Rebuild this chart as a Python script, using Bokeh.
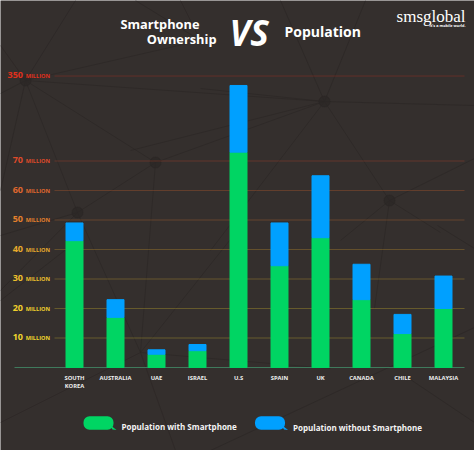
from bokeh.embed import file_html
from bokeh.resources import INLINE
from bokeh.plotting import figure
from bokeh.core.properties import value
from bokeh.models import Range1d, Label, BoxAnnotation, PolyAnnotation, ColumnDataSource

# ---- data -------------------------------------------------------------
categories = ["SOUTH\nKOREA", "AUSTRALIA", "UAE", "ISRAEL", "U.S", "SPAIN", "UK", "CANADA", "CHILE", "MALAYSIA"]
with_smartphone = [43, 17, 4.5, 5.7, 73, 34.5, 44, 23, 11.5, 20]
total_population = [49, 23, 6, 7.8, 95.6, 49, 65, 35, 18, 31]
# axis is broken: the 350 million line sits at position 98.8 on the 10-70 scale
tick_positions = [10, 20, 30, 40, 50, 60, 70, 98.8]
tick_numbers = ["10", "20", "30", "40", "50", "60", "70", "350"]
tick_colors = ["#f0d62c", "#f0cf2c", "#eec02c", "#e8ab2c", "#e4802c", "#e0682e", "#df4a2a", "#e0301c"]
legend_names = ["Population with Smartphone", "Population without Smartphone"]
GREEN, BLUE, BG = "#00d563", "#00a0ff", "#342f2d"

# decorative network in the background, reference pixels
net_nodes = [(25, 80), (77, 212), (155, 162), (324, 101), (389, 200)]
net_segments = [
    (25, 80, 75, 0), (25, 80, 0, 45), (25, 80, 0, 93), (25, 80, 0, 190), (25, 80, 200, 40),
    (25, 80, 324, 101), (25, 80, 155, 162), (25, 80, 77, 212),
    (155, 162, 77, 212), (155, 162, 324, 101), (155, 162, 140, 352),
    (77, 212, 0, 235), (77, 212, 140, 352), (77, 212, 0, 290),
    (324, 101, 280, 0), (324, 101, 365, 0), (324, 101, 474, 105), (324, 101, 200, 88),
    (324, 101, 210, 250), (324, 101, 389, 200),
    (389, 200, 474, 158), (389, 200, 340, 240), (389, 200, 440, 232), (389, 200, 374, 308),
    (140, 352, 175, 450), (140, 352, 0, 422), (140, 352, 233, 235), (140, 352, 330, 368),
    (0, 300, 77, 240), (210, 450, 474, 327), (404, 375, 474, 422), (437, 225, 474, 248),
    (200, 40, 135, 0), (200, 40, 180, 0), (324, 101, 130, 150),
]

# ---- geometry ----------------------------------------------------------
W, H = 474, 450
bar_step, bar_x0 = 41.0, 74.0
px_per_unit, base_y = 2.95, 367.0
def X(px): return (px - bar_x0) / bar_step
def Y(px): return (base_y - px) / px_per_unit

p = figure(width=W, height=H, output_backend="svg", toolbar_location=None,
           x_range=Range1d(X(0), X(W)), y_range=Range1d(Y(H), Y(0)),
           min_border=0, outline_line_color=None, background_fill_color=BG, border_fill_color=BG)
p.grid.visible = False
p.xaxis.visible = False
p.yaxis.visible = False

# background network
p.segment([X(s[0]) for s in net_segments], [Y(s[1]) for s in net_segments],
          [X(s[2]) for s in net_segments], [Y(s[3]) for s in net_segments],
          line_color="#2b2725", line_width=1, line_alpha=0.65)
p.scatter([X(n[0]) for n in net_nodes], [Y(n[1]) for n in net_nodes],
          size=11, color="#2b2725", alpha=0.7)

# grid lines
xs = list(range(len(categories)))
p.segment([X(54)] * len(tick_positions), tick_positions, [X(464)] * len(tick_positions), tick_positions,
          line_color=tick_colors, line_alpha=0.27, line_width=1)
p.segment([X(14)], [0], [X(464)], [0], line_color="#3f7a5c", line_width=1)

# bars
src = ColumnDataSource(dict(x=xs, w=with_smartphone, t=total_population))
bw = 17.0 / bar_step
p.vbar(x="x", width=bw, bottom=0, top="w", color=GREEN, source=src)
p.vbar(x="x", width=bw, bottom="w", top="t", color=BLUE, source=src)

# x labels
p.text(xs, [0] * len(xs), text=categories, text_color="#eeeeee", text_font=value("Open Sans"),
       text_font_size="5.8px", text_font_style="bold", text_align="center", text_baseline="top",
       y_offset=6, text_line_height=1.0)

# y tick labels: number + small MILLION
p.text([X(49.5)] * len(tick_positions), tick_positions, text=["MILLION"] * len(tick_positions),
       text_color=tick_colors, text_font=value("Open Sans"), text_font_style="bold", text_font_size="5.6px",
       text_align="right", text_baseline="middle")
p.text([X(22.5)] * len(tick_positions), tick_positions, text=tick_numbers,
       text_color=tick_colors, text_font=value("Open Sans"), text_font_style="bold", text_font_size="9px",
       text_align="right", text_baseline="middle", y_offset=-1)

def label(px, py, text, size, color="#ffffff", align="left", style="bold", font="Open Sans"):
    p.add_layout(Label(x=X(px), y=Y(py), text=text, text_color=color, text_font=font,
                       text_font_size=size, text_font_style=style, text_align=align,
                       text_baseline="middle"))

# title
label(199, 23, "Smartphone", "12.8px", align="right")
label(216, 38, "Ownership", "12.8px", align="right")
label(229, 32, "VS", "35px", style="bold italic")
label(284, 31, "Population", "14px")
label(465, 16, "smsglobal", "17px", align="right", style="normal", font="Liberation Serif")
label(465, 24.5, "it's a mobile world.", "3.8px", align="right")

# legend
for name, col, x0, tx, ty in zip(legend_names, [GREEN, BLUE], [83, 254.5], [121, 292.5], [426, 426.5]):
    p.add_layout(BoxAnnotation(left=X(x0), right=X(x0 + 30), top=Y(415.7), bottom=Y(429.3),
                               fill_color=col, fill_alpha=1, line_color=None, border_radius=6))
    p.add_layout(PolyAnnotation(xs=[X(x0 + 26), X(x0 + 33), X(x0 + 29)], ys=[Y(424), Y(429.5), Y(429)],
                                fill_color=col, fill_alpha=1, line_color=None))
    label(tx, ty, name, "8px", color="#f4f4f4")

open("out.html", "w").write(file_html(p, INLINE))
